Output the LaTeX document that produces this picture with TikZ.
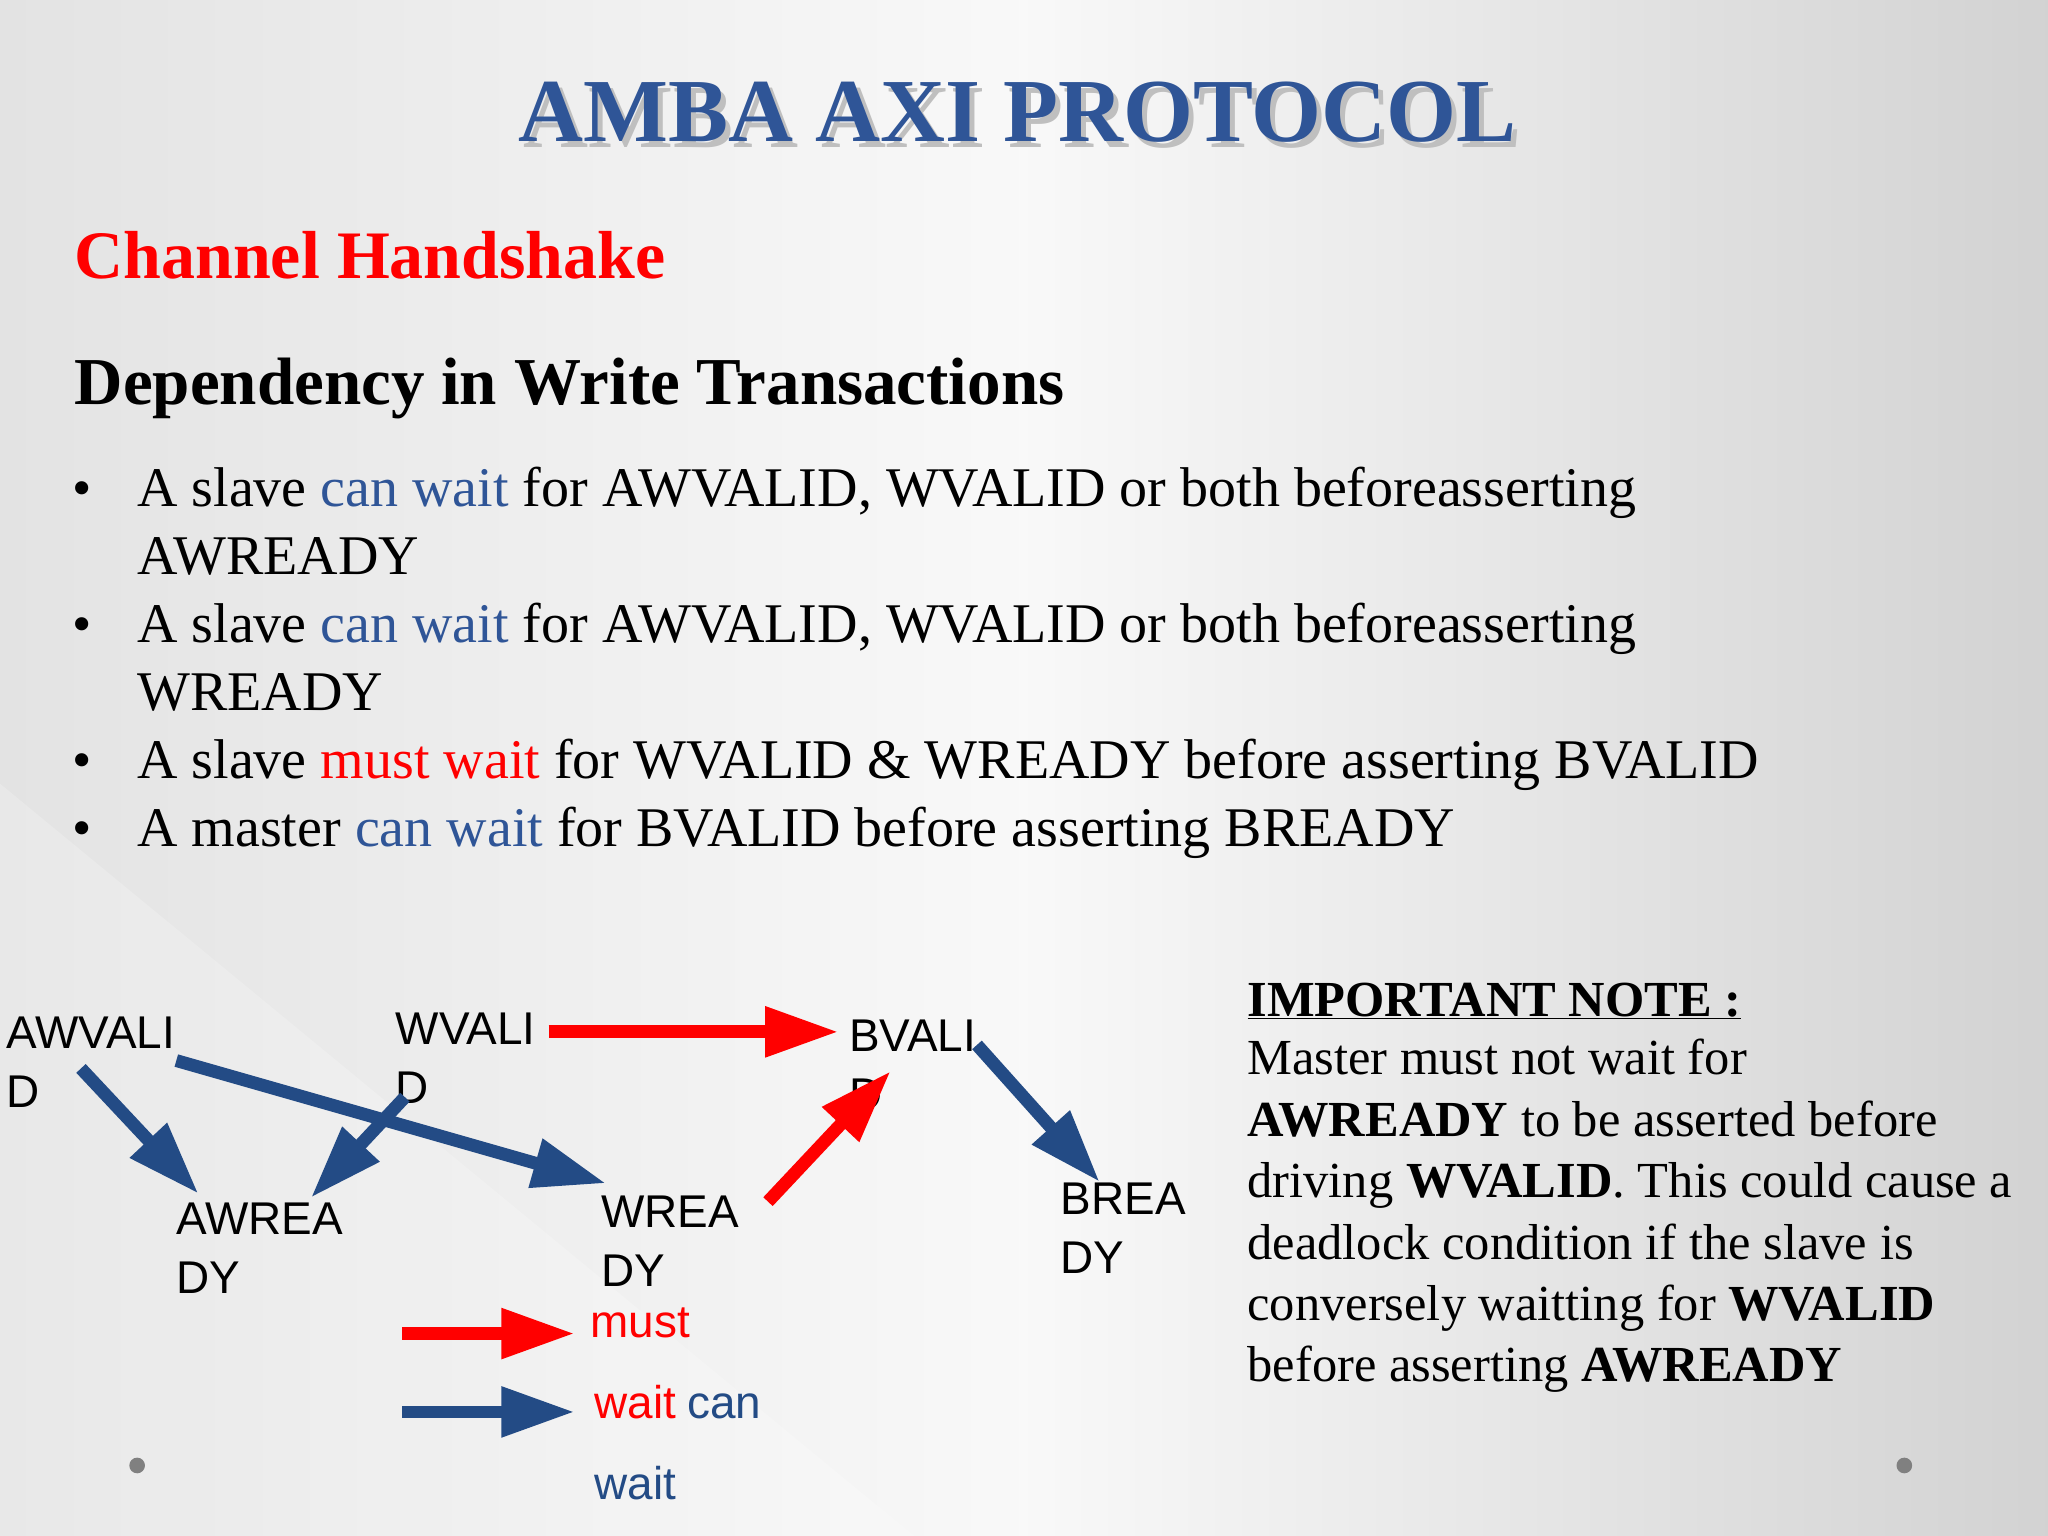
\documentclass[tikz,border=0pt]{standalone}
\usepackage{fontspec}
\setmainfont{Liberation Serif}
\newfontfamily\arial{Liberation Sans}
\usetikzlibrary{arrows.meta}
\definecolor{ttl}{HTML}{2F5597}
\definecolor{bl}{HTML}{234B85}
\definecolor{rd}{HTML}{FF0000}
\tikzset{
 lbl/.style={anchor=base west,inner sep=0pt,font=\arial\fontsize{50}{52}\selectfont},
 blt/.style={anchor=base west,inner sep=0pt,font=\fontsize{61}{63}\selectfont},
 nte/.style={anchor=base west,inner sep=0pt,font=\fontsize{55}{58}\selectfont},
 arr/.style={line width=14pt,-{Triangle[length=80pt,width=52pt]}},
}
\begin{document}
\begin{tikzpicture}[x=0.05cm,y=-0.05cm]
\useasboundingbox (0,0) rectangle (1568,1176);
\shade[left color=gray!22,right color=gray!35,middle color=white!95!gray] (0,0) rectangle (1568,1176);
\fill[white,opacity=0.2] (0,600) -- (700,1176) -- (0,1176) -- cycle;
% title
\node[anchor=base,inner sep=0pt,text=gray!50,font=\bfseries\fontsize{98}{102}\selectfont] at (783,113) {AMBA AXI PROTOCOL};
\node (title) [anchor=base,inner sep=0pt,text=ttl,font=\bfseries\fontsize{98}{102}\selectfont] at (779,108) {AMBA AXI PROTOCOL};
\node (ch) [anchor=base west,inner sep=0pt,text=rd,font=\bfseries\fontsize{74}{76}\selectfont] at (57,213) {Channel Handshake};
\node (dep) [anchor=base west,inner sep=0pt,font=\bfseries\fontsize{73}{76}\selectfont] at (57,310) {Dependency in Write Transactions};
% bullets
\foreach \y in {388,492,596,648} \node[anchor=base,inner sep=0pt,font=\fontsize{60}{62}\selectfont] at (63,\y) {\textbullet};
\node (b1) [blt] at (105,388) {A slave \textcolor{ttl}{can wait} for AWVALID, WVALID or both beforeasserting};
\node (b1b) [blt] at (105,440) {AWREADY};
\node (b2) [blt] at (105,492) {A slave \textcolor{ttl}{can wait} for AWVALID, WVALID or both beforeasserting};
\node (b2b) [blt] at (105,544) {WREADY};
\node (b3) [blt] at (105,596) {A slave \textcolor{rd}{must wait} for WVALID \& WREADY before asserting BVALID};
\node (b4) [blt] at (105,648) {A master \textcolor{ttl}{can wait} for BVALID before asserting BREADY};
% diagram labels
\node (awv) [lbl] at (5,803) {AWVALI};
\node [lbl] at (5,848) {D};
\node (wv) [lbl] at (303,800) {WVALI};
\node [lbl] at (303,845) {D};
\node (bv) [lbl] at (650,805) {BVALI};
\node [lbl] at (650,850) {D};
\node (awr) [lbl] at (135,945) {AWREA};
\node [lbl] at (135,990) {DY};
\node (wr) [lbl] at (460,940) {WREA};
\node [lbl] at (460,985) {DY};
\node (br) [lbl] at (812,930) {BREA};
\node [lbl] at (812,975) {DY};
\node (must) [lbl,text=rd] at (452,1024) {must};
\node (wc) [lbl] at (455,1086) {\textcolor{rd}{wait}\hspace{12pt}\textcolor{bl}{can}};
\node (w2) [lbl,text=bl] at (455,1148) {wait};
% arrow end points
\coordinate (a1s) at (62,818); \coordinate (a1e) at (152,914);
\coordinate (a2s) at (310,840); \coordinate (a2e) at (238,917);
\coordinate (a3s) at (135,812); \coordinate (a3e) at (464,906);
\coordinate (a4s) at (748,800); \coordinate (a4e) at (842,905);
\coordinate (r1s) at (420,790); \coordinate (r1e) at (642,790);
\coordinate (r2s) at (588,920); \coordinate (r2e) at (682,820);
\coordinate (l1s) at (308,1021); \coordinate (l1e) at (440,1021);
\coordinate (l2s) at (308,1081); \coordinate (l2e) at (440,1081);
\draw[arr,bl] (a1s) -- (a1e);
\draw[arr,bl] (a2s) -- (a2e);
\draw[arr,bl] (a3s) -- (a3e);
\draw[arr,bl] (a4s) -- (a4e);
\draw[arr,rd] (r1s) -- (r1e);
\draw[arr,rd] (r2s) -- (r2e);
\draw[arr,rd] (l1s) -- (l1e);
\draw[arr,bl] (l2s) -- (l2e);
% note
\node (n0) [nte,font=\bfseries\fontsize{55}{58}\selectfont] at (955,778) {\underline{IMPORTANT NOTE :}};
\node [nte] at (955,823) {Master must not wait for};
\node [nte] at (955,870) {\textbf{AWREADY} to be asserted before};
\node [nte] at (955,917) {driving \textbf{WVALID}. This could cause a};
\node [nte] at (955,964) {deadlock condition if the slave is};
\node [nte] at (955,1011) {conversely waitting for \textbf{WVALID}};
\node [nte] at (955,1058) {before asserting \textbf{AWREADY}};
\fill[gray] (105,1122) circle (6);
\fill[gray] (1458,1122) circle (6);
\end{tikzpicture}
\end{document}
